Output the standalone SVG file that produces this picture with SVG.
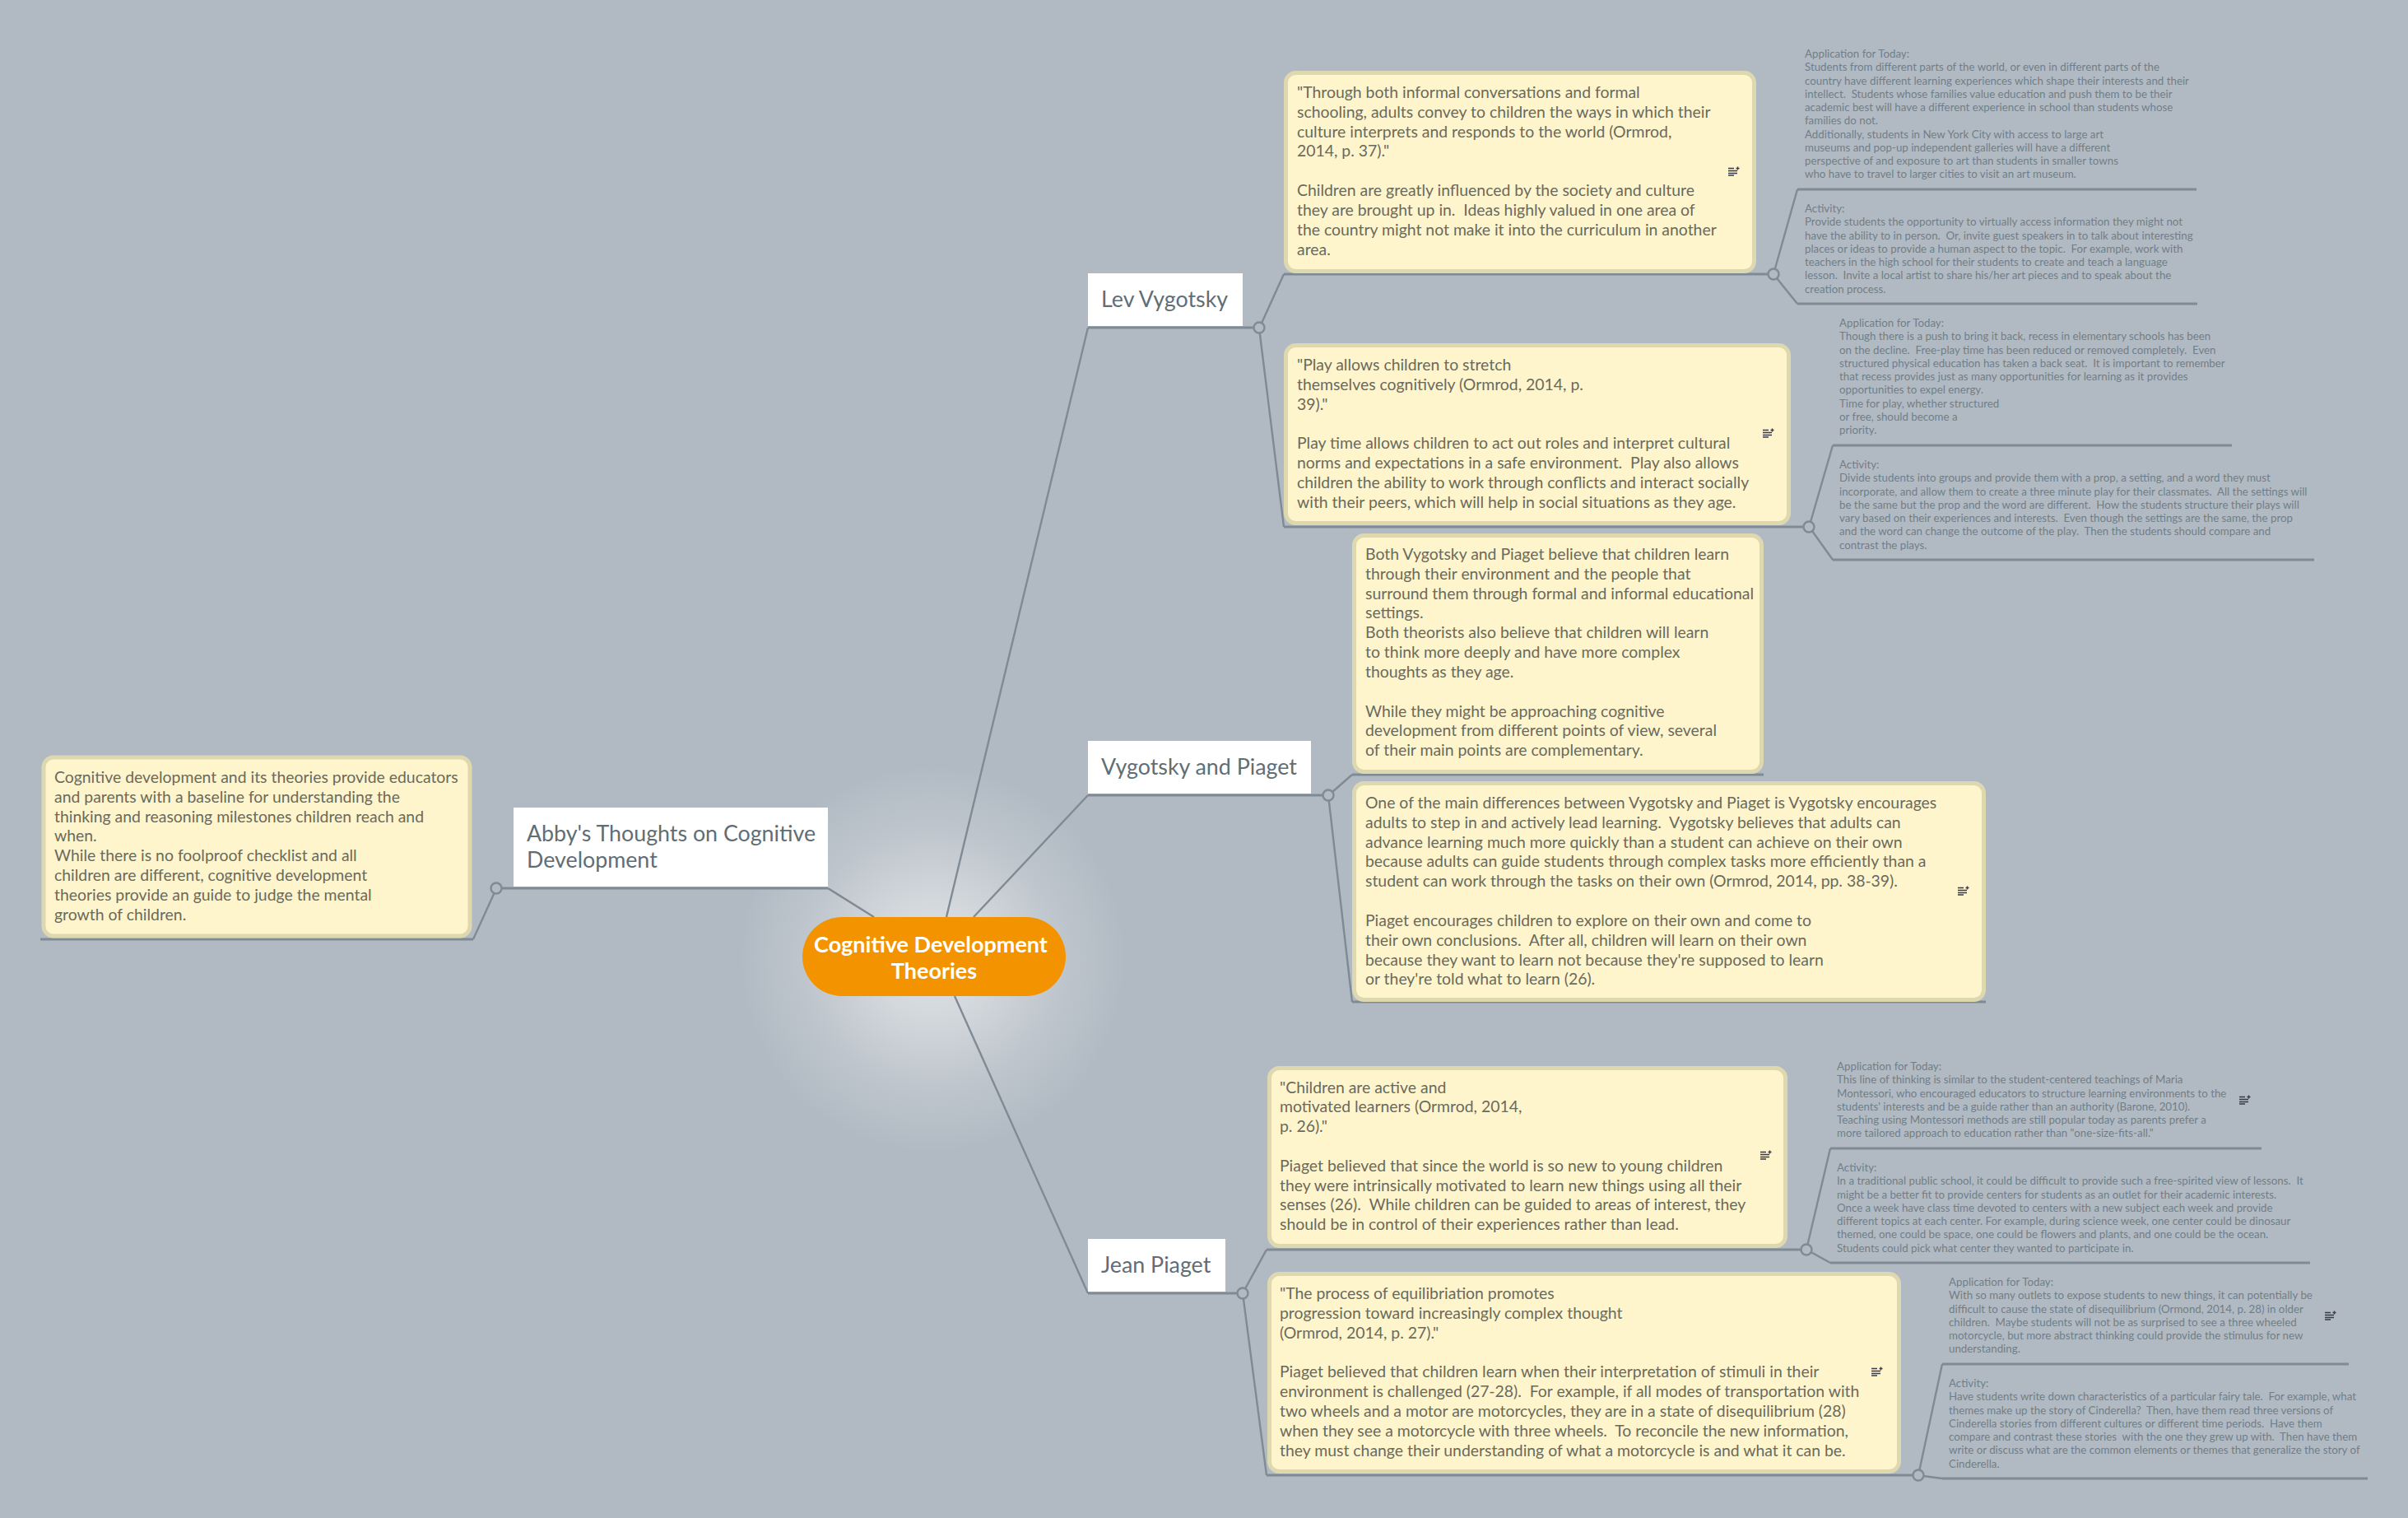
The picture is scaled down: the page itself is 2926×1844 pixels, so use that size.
<svg xmlns="http://www.w3.org/2000/svg" xmlns:xlink="http://www.w3.org/1999/xlink" width="2926" height="1844" viewBox="0 0 2926 1844">
<style>
.box{fill:#fef5cd;stroke:#ded8b0;stroke-width:5}
.topic{fill:#fff}
.link{fill:none;stroke:#7f8a94;stroke-width:2.4}
.thick{fill:none;stroke:#7f8a94;stroke-width:3}
.hub{fill:none;stroke:#7f8a94;stroke-width:2.4}
text{font-family:"Lato","Liberation Sans",sans-serif;white-space:pre}
.body{font-size:19.4px;fill:#6a6a5c}
.note{font-size:13.3px;fill:#727e87}
.title{font-size:26.8px;fill:#5f6e75}
.root{font-size:27px;font-weight:700;fill:#fff;text-anchor:middle}
</style>
<defs>
<radialGradient id="glow" gradientUnits="userSpaceOnUse" cx="1133" cy="1165" r="235">
<stop offset="0" stop-color="#e0e3e6"/><stop offset="0.3" stop-color="#d3d8dc"/><stop offset="0.65" stop-color="#bfc6cd"/><stop offset="1" stop-color="#b1bac3"/>
</radialGradient>
<symbol id="ic" viewBox="0 0 14 12" width="14" height="12" overflow="visible">
<path d="M0 2.5H7M0 5.5H11M0 8.5H11M0 11H7M9.5 2.5H13.5M11.500 0.5V4.5" fill="none" stroke="#3a3a48" stroke-width="1.4"/>
</symbol>
</defs>
<rect width="2926" height="1844" fill="#b1bac3"/>
<circle cx="1133" cy="1165" r="235" fill="url(#glow)"/>
<g id="connectors">
<path class="link" d="M1062 1114L1006 1079"/>
<path class="thick" d="M1006 1079H609"/>
<path class="link" d="M600.500 1085L575 1141"/><path class="thick" d="M575 1141H49"/>
<path class="link" d="M1150 1114L1322 398"/><path class="thick" d="M1322 398H1524"/>
<path class="link" d="M1183 1114L1322 966"/><path class="thick" d="M1322 966H1608"/>
<path class="link" d="M1160 1210L1322 1571"/><path class="thick" d="M1322 1571H1504"/>
<path class="link" d="M1533 392.500L1560 333"/><path class="thick" d="M1560 333H2149"/>
<path class="link" d="M1530.700 404L1560 640"/><path class="thick" d="M1560 640H2192"/>
<path class="link" d="M2156.700 327L2184 230"/><path class="thick" d="M2184 230H2669"/>
<path class="link" d="M2159 338L2184 369"/><path class="thick" d="M2184 369H2670"/>
<path class="link" d="M2200 634L2227 541"/><path class="thick" d="M2227 541H2712"/>
<path class="link" d="M2202 645L2227 680"/><path class="thick" d="M2227 680H2812"/>
<path class="link" d="M1619 962L1643 941"/><path class="thick" d="M1643 941H2143"/>
<path class="link" d="M1614.700 972L1643 1217"/><path class="thick" d="M1643 1217H2413"/>
<path class="link" d="M1513 1565.500L1539 1518"/><path class="thick" d="M1539 1518H2189"/>
<path class="link" d="M1510.800 1577L1539 1792"/><path class="thick" d="M1539 1792H2325"/>
<path class="link" d="M2196.400 1512L2224 1395"/><path class="thick" d="M2224 1395H2748"/>
<path class="link" d="M2200.500 1521L2224 1534"/><path class="thick" d="M2224 1534H2807"/>
<path class="link" d="M2332.300 1786L2360 1657"/><path class="thick" d="M2360 1657H2854"/>
<path class="link" d="M2337 1793L2360 1796"/><path class="thick" d="M2360 1796H2877"/>
<circle class="hub" cx="603" cy="1079" r="6.500"/><circle class="hub" cx="1530" cy="398" r="6.500"/>
<circle class="hub" cx="1614" cy="966" r="6.500"/><circle class="hub" cx="1510" cy="1571" r="6.500"/>
<circle class="hub" cx="2155" cy="333" r="6.500"/><circle class="hub" cx="2198" cy="640" r="6.500"/>
<circle class="hub" cx="2195" cy="1518" r="6.500"/><circle class="hub" cx="2331" cy="1792" r="6.500"/>
</g>
<g id="root"><rect x="975" y="1114" width="320" height="96" rx="48" fill="#f39300"/>
<text class="root" y="1157"><tspan x="1131">Cognitive Development</tspan><tspan x="1135" y="1189">Theories</tspan></text></g>
<g id="topic-abby"><rect class="topic" x="624" y="981" width="382" height="96"/>
<text class="title" y="1022"><tspan x="640">Abby's Thoughts on Cognitive</tspan><tspan x="640" y="1054">Development</tspan></text></g>
<g id="topic-lev"><rect class="topic" x="1322" y="332" width="188" height="64"/><text class="title" x="1338" y="373">Lev Vygotsky</text></g>
<g id="topic-both"><rect class="topic" x="1322" y="900" width="271" height="64"/><text class="title" x="1338" y="941">Vygotsky and Piaget</text></g>
<g id="topic-jean"><rect class="topic" x="1322" y="1505" width="167" height="64"/><text class="title" x="1338" y="1546">Jean Piaget</text></g>
<g id="box-abby"><rect class="box" x="53" y="920" width="518" height="217" rx="12"/>
<text class="body" y="951"><tspan x="66">Cognitive development and its theories provide educators</tspan><tspan x="66" dy="23.83">and parents with a baseline for understanding the</tspan><tspan x="66" dy="23.83">thinking and reasoning milestones children reach and</tspan><tspan x="66" dy="23.83">when.</tspan><tspan x="66" dy="23.83">While there is no foolproof checklist and all</tspan><tspan x="66" dy="23.83">children are different, cognitive development</tspan><tspan x="66" dy="23.83">theories provide an guide to judge the mental</tspan><tspan x="66" dy="23.83">growth of children.</tspan></text></g>
<g id="box-through"><rect class="box" x="1562.500" y="88.500" width="569" height="241" rx="12"/>
<text class="body" y="119"><tspan x="1576">"Through both informal conversations and formal</tspan><tspan x="1576" dy="23.83">schooling, adults convey to children the ways in which their</tspan><tspan x="1576" dy="23.83">culture interprets and responds to the world (Ormrod,</tspan><tspan x="1576" dy="23.83">2014, p. 37)."</tspan><tspan x="1576" dy="47.66">Children are greatly influenced by the society and culture</tspan><tspan x="1576" dy="23.83">they are brought up in.  Ideas highly valued in one area of</tspan><tspan x="1576" dy="23.83">the country might not make it into the curriculum in another</tspan><tspan x="1576" dy="23.83">area.</tspan></text><use xlink:href="#ic" href="#ic" x="2100" y="202"/></g>
<g id="box-play"><rect class="box" x="1562.500" y="419.500" width="611" height="216" rx="12"/>
<text class="body" y="450"><tspan x="1576">"Play allows children to stretch</tspan><tspan x="1576" dy="23.83">themselves cognitively (Ormrod, 2014, p.</tspan><tspan x="1576" dy="23.83">39)."</tspan><tspan x="1576" dy="47.66">Play time allows children to act out roles and interpret cultural</tspan><tspan x="1576" dy="23.83">norms and expectations in a safe environment.  Play also allows</tspan><tspan x="1576" dy="23.83">children the ability to work through conflicts and interact socially</tspan><tspan x="1576" dy="23.83">with their peers, which will help in social situations as they age.</tspan></text><use xlink:href="#ic" href="#ic" x="2142" y="520"/></g>
<g id="box-both"><rect class="box" x="1645.500" y="650.500" width="495" height="287" rx="12"/>
<text class="body" y="680"><tspan x="1659">Both Vygotsky and Piaget believe that children learn</tspan><tspan x="1659" dy="23.83">through their environment and the people that</tspan><tspan x="1659" dy="23.83">surround them through formal and informal educational</tspan><tspan x="1659" dy="23.83">settings.</tspan><tspan x="1659" dy="23.83">Both theorists also believe that children will learn</tspan><tspan x="1659" dy="23.83">to think more deeply and have more complex</tspan><tspan x="1659" dy="23.83">thoughts as they age.</tspan><tspan x="1659" dy="47.66">While they might be approaching cognitive</tspan><tspan x="1659" dy="23.83">development from different points of view, several</tspan><tspan x="1659" dy="23.83">of their main points are complementary.</tspan></text></g>
<g id="box-diff"><rect class="box" x="1645.500" y="951.500" width="765" height="263" rx="12"/>
<text class="body" y="982"><tspan x="1659">One of the main differences between Vygotsky and Piaget is Vygotsky encourages</tspan><tspan x="1659" dy="23.83">adults to step in and actively lead learning.  Vygotsky believes that adults can</tspan><tspan x="1659" dy="23.83">advance learning much more quickly than a student can achieve on their own</tspan><tspan x="1659" dy="23.83">because adults can guide students through complex tasks more efficiently than a</tspan><tspan x="1659" dy="23.83">student can work through the tasks on their own (Ormrod, 2014, pp. 38-39).</tspan><tspan x="1659" dy="47.66">Piaget encourages children to explore on their own and come to</tspan><tspan x="1659" dy="23.83">their own conclusions.  After all, children will learn on their own</tspan><tspan x="1659" dy="23.83">because they want to learn not because they're supposed to learn</tspan><tspan x="1659" dy="23.83">or they're told what to learn (26).</tspan></text><use xlink:href="#ic" href="#ic" x="2379" y="1076"/></g>
<g id="box-active"><rect class="box" x="1542.500" y="1297.500" width="627" height="216" rx="12"/>
<text class="body" y="1327.500"><tspan x="1555">"Children are active and</tspan><tspan x="1555" dy="23.83">motivated learners (Ormrod, 2014,</tspan><tspan x="1555" dy="23.83">p. 26)."</tspan><tspan x="1555" dy="47.66">Piaget believed that since the world is so new to young children</tspan><tspan x="1555" dy="23.83">they were intrinsically motivated to learn new things using all their</tspan><tspan x="1555" dy="23.83">senses (26).  While children can be guided to areas of interest, they</tspan><tspan x="1555" dy="23.83">should be in control of their experiences rather than lead.</tspan></text><use xlink:href="#ic" href="#ic" x="2139" y="1397"/></g>
<g id="box-equil"><rect class="box" x="1542.500" y="1547.500" width="765" height="240" rx="12"/>
<text class="body" y="1578"><tspan x="1555">"The process of equilibriation promotes</tspan><tspan x="1555" dy="23.83">progression toward increasingly complex thought</tspan><tspan x="1555" dy="23.83">(Ormrod, 2014, p. 27)."</tspan><tspan x="1555" dy="47.66">Piaget believed that children learn when their interpretation of stimuli in their</tspan><tspan x="1555" dy="23.83">environment is challenged (27-28).  For example, if all modes of transportation with</tspan><tspan x="1555" dy="23.83">two wheels and a motor are motorcycles, they are in a state of disequilibrium (28)</tspan><tspan x="1555" dy="23.83">when they see a motorcycle with three wheels.  To reconcile the new information,</tspan><tspan x="1555" dy="23.83">they must change their understanding of what a motorcycle is and what it can be.</tspan></text><use xlink:href="#ic" href="#ic" x="2274" y="1660"/></g>
<g id="note-1"><text class="note" y="70"><tspan x="2193">Application for Today:</tspan><tspan x="2193" dy="16.25">Students from different parts of the world, or even in different parts of the</tspan><tspan x="2193" dy="16.25">country have different learning experiences which shape their interests and their</tspan><tspan x="2193" dy="16.25">intellect.  Students whose families value education and push them to be their</tspan><tspan x="2193" dy="16.25">academic best will have a different experience in school than students whose</tspan><tspan x="2193" dy="16.25">families do not.</tspan><tspan x="2193" dy="16.25">Additionally, students in New York City with access to large art</tspan><tspan x="2193" dy="16.25">museums and pop-up independent galleries will have a different</tspan><tspan x="2193" dy="16.25">perspective of and exposure to art than students in smaller towns</tspan><tspan x="2193" dy="16.25">who have to travel to larger cities to visit an art museum.</tspan></text>
<text class="note" y="258"><tspan x="2193">Activity:</tspan><tspan x="2193" dy="16.25">Provide students the opportunity to virtually access information they might not</tspan><tspan x="2193" dy="16.25">have the ability to in person.  Or, invite guest speakers in to talk about interesting</tspan><tspan x="2193" dy="16.25">places or ideas to provide a human aspect to the topic.  For example, work with</tspan><tspan x="2193" dy="16.25">teachers in the high school for their students to create and teach a language</tspan><tspan x="2193" dy="16.25">lesson.  Invite a local artist to share his/her art pieces and to speak about the</tspan><tspan x="2193" dy="16.25">creation process.</tspan></text></g>
<g id="note-2"><text class="note" y="397"><tspan x="2235">Application for Today:</tspan><tspan x="2235" dy="16.25">Though there is a push to bring it back, recess in elementary schools has been</tspan><tspan x="2235" dy="16.25">on the decline.  Free-play time has been reduced or removed completely.  Even</tspan><tspan x="2235" dy="16.25">structured physical education has taken a back seat.  It is important to remember</tspan><tspan x="2235" dy="16.25">that recess provides just as many opportunities for learning as it provides</tspan><tspan x="2235" dy="16.25">opportunities to expel energy.</tspan><tspan x="2235" dy="16.25">Time for play, whether structured</tspan><tspan x="2235" dy="16.25">or free, should become a</tspan><tspan x="2235" dy="16.25">priority.</tspan></text>
<text class="note" y="569"><tspan x="2235">Activity:</tspan><tspan x="2235" dy="16.25">Divide students into groups and provide them with a prop, a setting, and a word they must</tspan><tspan x="2235" dy="16.25">incorporate, and allow them to create a three minute play for their classmates.  All the settings will</tspan><tspan x="2235" dy="16.25">be the same but the prop and the word are different.  How the students structure their plays will</tspan><tspan x="2235" dy="16.25">vary based on their experiences and interests.  Even though the settings are the same, the prop</tspan><tspan x="2235" dy="16.25">and the word can change the outcome of the play.  Then the students should compare and</tspan><tspan x="2235" dy="16.25">contrast the plays.</tspan></text></g>
<g id="note-3"><text class="note" y="1300"><tspan x="2232">Application for Today:</tspan><tspan x="2232" dy="16.25">This line of thinking is similar to the student-centered teachings of Maria</tspan><tspan x="2232" dy="16.25">Montessori, who encouraged educators to structure learning environments to the</tspan><tspan x="2232" dy="16.25">students' interests and be a guide rather than an authority (Barone, 2010).</tspan><tspan x="2232" dy="16.25">Teaching using Montessori methods are still popular today as parents prefer a</tspan><tspan x="2232" dy="16.25">more tailored approach to education rather than "one-size-fits-all."</tspan></text><use xlink:href="#ic" href="#ic" x="2721" y="1330"/>
<text class="note" y="1423"><tspan x="2232">Activity:</tspan><tspan x="2232" dy="16.25">In a traditional public school, it could be difficult to provide such a free-spirited view of lessons.  It</tspan><tspan x="2232" dy="16.25">might be a better fit to provide centers for students as an outlet for their academic interests.</tspan><tspan x="2232" dy="16.25">Once a week have class time devoted to centers with a new subject each week and provide</tspan><tspan x="2232" dy="16.25">different topics at each center. For example, during science week, one center could be dinosaur</tspan><tspan x="2232" dy="16.25">themed, one could be space, one could be flowers and plants, and one could be the ocean.</tspan><tspan x="2232" dy="16.25">Students could pick what center they wanted to participate in.</tspan></text></g>
<g id="note-4"><text class="note" y="1562"><tspan x="2368">Application for Today:</tspan><tspan x="2368" dy="16.25">With so many outlets to expose students to new things, it can potentially be</tspan><tspan x="2368" dy="16.25">difficult to cause the state of disequilibrium (Ormond, 2014, p. 28) in older</tspan><tspan x="2368" dy="16.25">children.  Maybe students will not be as surprised to see a three wheeled</tspan><tspan x="2368" dy="16.25">motorcycle, but more abstract thinking could provide the stimulus for new</tspan><tspan x="2368" dy="16.25">understanding.</tspan></text><use xlink:href="#ic" href="#ic" x="2825" y="1592"/>
<text class="note" y="1685"><tspan x="2368">Activity:</tspan><tspan x="2368" dy="16.25">Have students write down characteristics of a particular fairy tale.  For example, what</tspan><tspan x="2368" dy="16.25">themes make up the story of Cinderella?  Then, have them read three versions of</tspan><tspan x="2368" dy="16.25">Cinderella stories from different cultures or different time periods.  Have them</tspan><tspan x="2368" dy="16.25">compare and contrast these stories  with the one they grew up with.  Then have them</tspan><tspan x="2368" dy="16.25">write or discuss what are the common elements or themes that generalize the story of</tspan><tspan x="2368" dy="16.25">Cinderella.</tspan></text></g>
</svg>
